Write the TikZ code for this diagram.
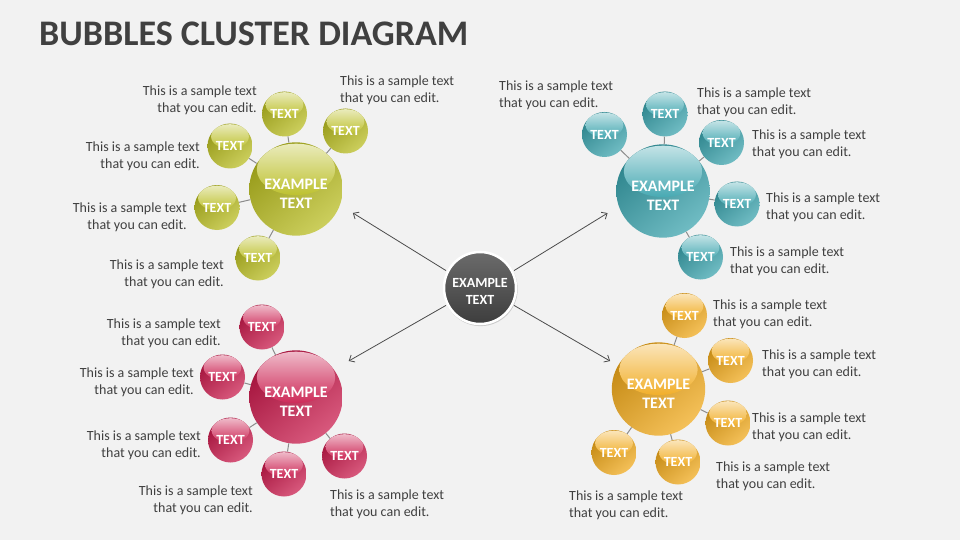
\documentclass[tikz,border=0pt]{standalone}
\usepackage{fontspec}
\setmainfont{Carlito}
\usetikzlibrary{arrows.meta,shadows}
\definecolor{bg}{HTML}{F2F2F2}
\definecolor{txt}{HTML}{404040}
\definecolor{cyel}{HTML}{B8BC1E}
\definecolor{cteal}{HTML}{38A2AC}
\definecolor{cred}{HTML}{C9184A}
\definecolor{corg}{HTML}{F0A818}
\tikzset{
  bc/.code={\colorlet{bcol}{#1}},
  bubble/.style={circle, inner sep=0pt, minimum size=2*#1pt, align=center, text=white,
    path picture={
      \shade[top color=bcol!82!black, bottom color=bcol!72!white, shading angle=40]
        (path picture bounding box.south west) rectangle (path picture bounding box.north east);
      \shade[top color=bcol!30!white, bottom color=bcol!92!white]
        ([yshift=0.42*#1pt]path picture bounding box.center) ellipse [x radius=0.84*#1pt, y radius=0.55*#1pt];
    }},
  smallb/.style={bubble=22.5, font=\bfseries\fontsize{14}{16}\selectfont},
  bigb/.style={bubble=46.7, font=\bfseries\fontsize{16}{19}\selectfont},
  hub/.style={circle, inner sep=0pt, minimum size=72pt, draw=white, line width=2.5pt,
    top color=black!58, bottom color=black!76, text=white, align=center,
    font=\bfseries\fontsize{14}{17}\selectfont,
    drop shadow={shadow xshift=0.6pt, shadow yshift=-1pt, opacity=0.35, shadow scale=1.03}},
  link/.style={draw=black!45, line width=1pt},
  arr/.style={draw=black!70, line width=0.8pt, -{Straight Barb[length=4.5pt,width=8pt]}},
  st/.style={font=\fontsize{14}{17}\selectfont, text=txt, inner sep=0pt},
  stl/.style={st, anchor=west, align=left},
  str/.style={st, anchor=east, align=right},
}
\newcommand{\samp}{This is a sample text\\that you can edit.}
\newcommand{\bigtxt}{\rule{0pt}{20.5pt}EXAMPLE\\TEXT}
\begin{document}
\begin{tikzpicture}[x=1pt, y=-1pt]
\fill[bg] (0,0) rectangle (960,540);
\useasboundingbox (0,0) rectangle (960,540);
\node[anchor=west, inner sep=0pt, text=txt, font=\bfseries\fontsize{36}{40}\selectfont] (title) at (39,34) {BUBBLES CLUSTER DIAGRAM};

% hub
\node[hub] (hub) at (480,288) {\rule{0pt}{15pt}EXAMPLE\\TEXT};

% yellow cluster
\node[bigb, bc=cyel] (yb) at (296,189) {\bigtxt};
\node[smallb, bc=cyel] (y1) at (284.5,114) {TEXT};
\node[smallb, bc=cyel] (y2) at (345.5,131) {TEXT};
\node[smallb, bc=cyel] (y3) at (230,146) {TEXT};
\node[smallb, bc=cyel] (y4) at (217,207.5) {TEXT};
\node[smallb, bc=cyel] (y5) at (258,258) {TEXT};

% teal cluster
\node[bigb, bc=cteal] (tb) at (663,191) {\bigtxt};
\node[smallb, bc=cteal] (t1) at (604.5,134.5) {TEXT};
\node[smallb, bc=cteal] (t2) at (665,114) {TEXT};
\node[smallb, bc=cteal] (t3) at (721.5,142.5) {TEXT};
\node[smallb, bc=cteal] (t4) at (737,204) {TEXT};
\node[smallb, bc=cteal] (t5) at (700.5,257) {TEXT};

% red cluster
\node[bigb, bc=cred] (rb) at (296,397) {\bigtxt};
\node[smallb, bc=cred] (r1) at (262,327) {TEXT};
\node[smallb, bc=cred] (r2) at (222.5,377) {TEXT};
\node[smallb, bc=cred] (r3) at (230.5,440) {TEXT};
\node[smallb, bc=cred] (r4) at (284,474) {TEXT};
\node[smallb, bc=cred] (r5) at (344.5,456) {TEXT};

% orange cluster
\node[bigb, bc=corg] (ob) at (658.5,389) {\bigtxt};
\node[smallb, bc=corg] (o1) at (684.5,315.5) {TEXT};
\node[smallb, bc=corg] (o2) at (730.5,360.5) {TEXT};
\node[smallb, bc=corg] (o3) at (728,423) {TEXT};
\node[smallb, bc=corg] (o4) at (614,452.5) {TEXT};
\node[smallb, bc=corg] (o5) at (678,462) {TEXT};

% links
\foreach \s in {y1,y2,y3,y4,y5} \draw[link] (\s) -- (yb);
\foreach \s in {t1,t2,t3,t4,t5} \draw[link] (\s) -- (tb);
\foreach \s in {r1,r2,r3,r4,r5} \draw[link] (\s) -- (rb);
\foreach \s in {o1,o2,o3,o4,o5} \draw[link] (\s) -- (ob);

% arrows
\draw[arr, shorten <=1pt, shorten >=15pt] (hub.153) -- (yb.-20);
\draw[arr, shorten <=1pt, shorten >=13pt] (hub.27) -- (tb.-161);
\draw[arr, shorten <=1pt, shorten >=17pt] (hub.-153) -- (rb.36);
\draw[arr, shorten <=1pt, shorten >=9pt] (hub.-27) -- (ob.150);

% texts yellow
\node[str] (ty1) at (257,100.5) {\samp};
\node[stl] (ty2) at (340,90.5) {\samp};
\node[str] (ty3) at (200,156.5) {\samp};
\node[str] (ty4) at (187,217.5) {\samp};
\node[str] (ty5) at (224,274.5) {\samp};
% texts teal
\node[stl] (tt1) at (499,95.5) {\samp};
\node[stl] (tt2) at (697,102.5) {\samp};
\node[stl] (tt3) at (752,144.5) {\samp};
\node[stl] (tt4) at (766,207.5) {\samp};
\node[stl] (tt5) at (730,261.5) {\samp};
% texts red
\node[str] (tr1) at (221,333.5) {\samp};
\node[str] (tr2) at (194,382.5) {\samp};
\node[str] (tr3) at (201,445.5) {\samp};
\node[str] (tr4) at (253,500.5) {\samp};
\node[stl] (tr5) at (330,504.5) {\samp};
% texts orange
\node[stl] (to1) at (713,314.5) {\samp};
\node[stl] (to2) at (762,364.5) {\samp};
\node[stl] (to3) at (752,427.5) {\samp};
\node[stl] (to4) at (716,476.5) {\samp};
\node[stl] (to5) at (569,505.5) {\samp};
\end{tikzpicture}
\end{document}
